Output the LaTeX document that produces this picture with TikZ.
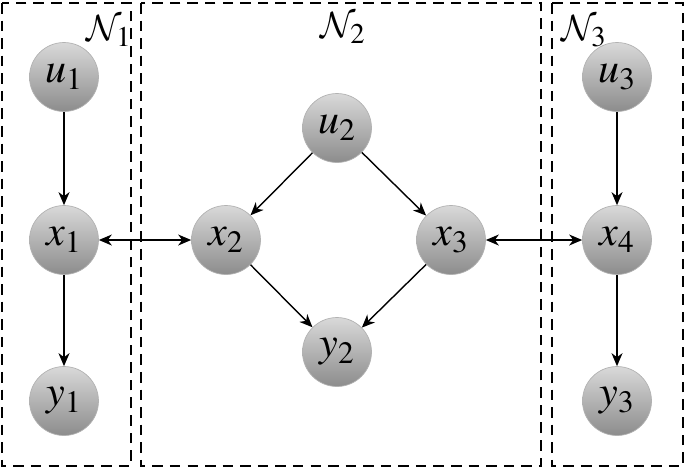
\documentclass[tikz,border=0pt]{standalone}
\usepackage{mathptmx}
\DeclareMathAlphabet{\mathcal}{OMS}{cmsy}{m}{n}
\usetikzlibrary{positioning, arrows.meta}
\tikzset{
  % network nodes and subsystem frames
  ball/.style    = { circle, draw=gray!60, thin, minimum size=1.38cm, inner sep=0,
                     top color=gray!30, bottom color=gray!90,
                     font=\fontsize{24}{28}\selectfont },
  subsys/.style  = { line width=1pt, dash pattern=on 6pt off 4pt },
  syslabel/.style= { font=\fontsize{22}{26}\selectfont },
  flow/.style    = { thick, -{Stealth[length=2.6mm, width=2.2mm, inset=0.8mm]} },
  biflow/.style  = { thick, {Stealth[length=2.6mm, width=2.2mm, inset=0.8mm]}-{Stealth[length=2.6mm, width=2.2mm, inset=0.8mm]} }
}
\begin{document}
\begin{tikzpicture}[x=0.02cm, y=-0.02cm]
  \useasboundingbox (0,0) rectangle (685,468);

  % subsystem frames
  \draw[subsys] (2,3) rectangle (131,466);
  \draw[subsys] (141,3) rectangle (541,466);
  \draw[subsys] (552,3) rectangle (683,466);
  \node[syslabel] (n1) at (109,31) {$\mathcal{N}_1$};
  \node[syslabel] (n2) at (343,28) {$\mathcal{N}_2$};
  \node[syslabel] (n3) at (584,31) {$\mathcal{N}_3$};

  % nodes
  \node[ball] (u1) at (64,77)   {$u_1$};
  \node[ball] (x1) at (64,240)  {$x_1$};
  \node[ball] (y1) at (64,401)  {$y_1$};
  \node[ball] (u2) at (337,128) {$u_2$};
  \node[ball] (x2) at (226,240) {$x_2$};
  \node[ball] (x3) at (451,240) {$x_3$};
  \node[ball] (y2) at (337,352) {$y_2$};
  \node[ball] (u3) at (617,77)  {$u_3$};
  \node[ball] (x4) at (617,240) {$x_4$};
  \node[ball] (y3) at (617,401) {$y_3$};

  % connections
  \foreach \a/\b in {u1/x1, x1/y1, u2/x2, u2/x3, x2/y2, x3/y2, u3/x4, x4/y3}
    \draw[flow] (\a) -- (\b);
  \draw[biflow] (x1) -- (x2);
  \draw[biflow] (x3) -- (x4);

\end{tikzpicture}
\end{document}
